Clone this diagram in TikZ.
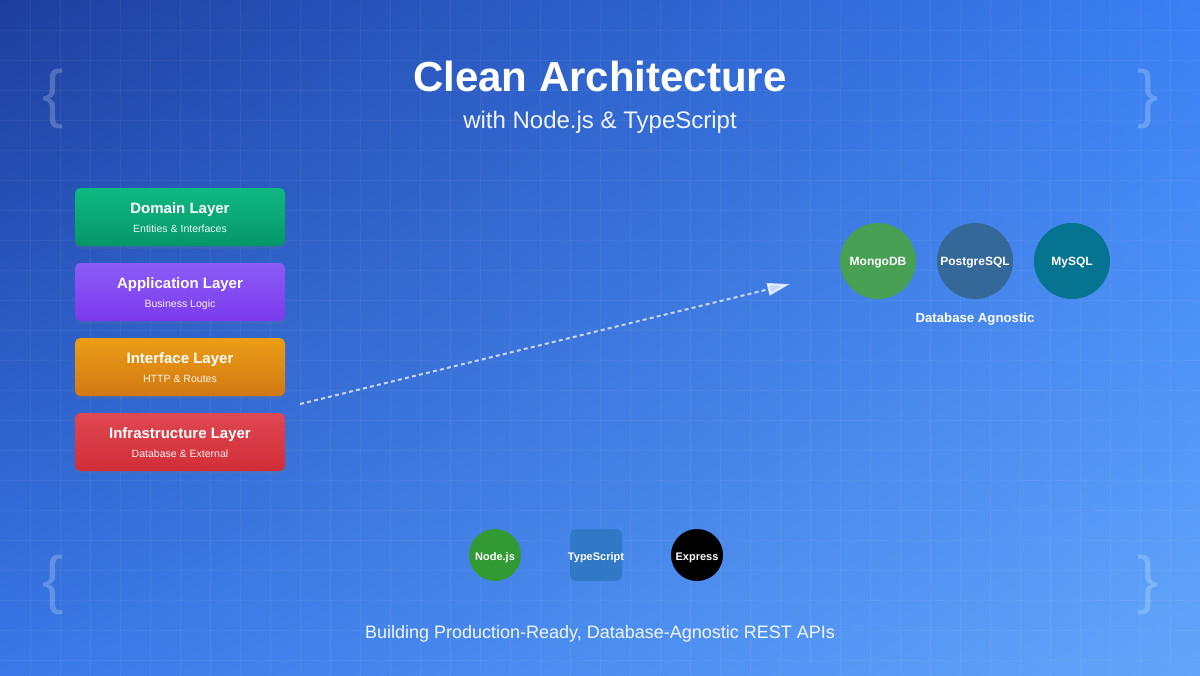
\documentclass[tikz,border=0pt]{standalone}
\usepackage{fontspec}
\setmainfont{Liberation Sans}
\usetikzlibrary{arrows.meta,shadows,shadings}
\definecolor{bgTL}{RGB}{30,62,158}
\definecolor{bgTR}{RGB}{58,128,244}
\definecolor{bgBL}{RGB}{56,120,232}
\definecolor{bgBR}{RGB}{98,166,250}
\definecolor{domT}{RGB}{16,185,129}
\definecolor{domB}{RGB}{5,150,105}
\definecolor{appT}{RGB}{139,92,246}
\definecolor{appB}{RGB}{124,58,237}
\definecolor{intT}{RGB}{235,158,20}
\definecolor{intB}{RGB}{210,120,20}
\definecolor{infT}{RGB}{222,72,82}
\definecolor{infB}{RGB}{210,45,55}
\definecolor{mongo}{RGB}{71,160,84}
\definecolor{pg}{RGB}{52,104,152}
\definecolor{mysql}{RGB}{6,116,144}
\definecolor{nodegreen}{RGB}{51,153,51}
\definecolor{tsblue}{RGB}{49,120,198}
\newcommand{\px}[1]{\edef\pxsz{\the\dimexpr #1pt*3/4\relax}\fontsize{\pxsz}{\pxsz}\selectfont}
\tikzset{
  layerbox/.style={rounded corners=4pt, minimum width=157.5pt, minimum height=43.5pt, inner sep=0pt, drop shadow={opacity=0.18, shadow xshift=0pt, shadow yshift=-2pt}},
  ltitle/.style={text=white, font=\bfseries\fontsize{11.25pt}{12pt}\selectfont, inner sep=0pt, text height=8.05pt, text depth=0pt},
  lsub/.style={text=white, text opacity=0.92, font=\fontsize{7.9pt}{9pt}\selectfont, inner sep=0pt, text height=5.65pt, text depth=0pt},
  dbcircle/.style={circle, minimum size=57pt, inner sep=0pt, text=white, font=\bfseries\px{12}, text height=6.45pt, text depth=0pt},
  techcircle/.style={circle, minimum size=39pt, inner sep=0pt},
  techsquare/.style={rounded corners=4pt, minimum size=39pt, inner sep=0pt},
  techlabel/.style={text=white, font=\bfseries\px{11}, inner sep=0pt, text height=5.9pt, text depth=0pt},
  brace/.style={text=white, text opacity=0.22, font=\px{64}, inner sep=0pt},
}
\begin{document}
\begin{tikzpicture}[x=0.75pt,y=-0.75pt]
\useasboundingbox (0,0) rectangle (1200,675);
\shade[upper left=bgTL, upper right=bgTR, lower left=bgBL, lower right=bgBR] (0,0) rectangle (1200,675);
\foreach \x in {30,60,...,1170} \draw[white, opacity=0.055, line width=0.75pt] (\x,0) -- (\x,675);
\foreach \y in {30,60,...,660} \draw[white, opacity=0.055, line width=0.75pt] (0,\y) -- (1200,\y);

% braces
\node[brace] (b1) at (53,99) {\{};
\node[brace] (b2) at (1148,99) {\}};
\node[brace] (b3) at (53,585) {\{};
\node[brace] (b4) at (1148,585) {\}};

% title
\node[text=white, font=\bfseries\fontsize{31.5pt}{33pt}\selectfont, inner sep=0pt, text height=22.55pt, text depth=0pt] (title) at (600,76) {Clean Architecture};
\node[text=white, text opacity=0.92, font=\px{24}, inner sep=0pt, text height=12.9pt, text depth=0pt] (subtitle) at (600,119.5) {with Node.js \& TypeScript};

% layers
\node[layerbox, top color=domT, bottom color=domB] (dom) at (180,217) {};
\node[ltitle] (domt) at ([yshift=6.75pt]dom.center) {Domain Layer};
\node[lsub] (doms) at ([yshift=-9pt]dom.center) {Entities \& Interfaces};

\node[layerbox, top color=appT, bottom color=appB] (app) at (180,292) {};
\node[ltitle] (appt) at ([yshift=6.75pt]app.center) {Application Layer};
\node[lsub] (apps) at ([yshift=-9pt]app.center) {Business Logic};

\node[layerbox, top color=intT, bottom color=intB] (int) at (180,367) {};
\node[ltitle] (intt) at ([yshift=6.75pt]int.center) {Interface Layer};
\node[lsub] (ints) at ([yshift=-9pt]int.center) {HTTP \& Routes};

\node[layerbox, top color=infT, bottom color=infB] (inf) at (180,442) {};
\node[ltitle] (inft) at ([yshift=6.75pt]inf.center) {Infrastructure Layer};
\node[lsub] (infs) at ([yshift=-9pt]inf.center) {Database \& External};

% arrow
\coordinate (as) at (300,404);
\coordinate (ae) at (790,284);
\draw[white, opacity=0.72, line width=1.5pt, dash pattern=on 3pt off 2.4pt,
  -{Triangle[length=17pt, width=9.5pt, fill=white]}] (as) -- (ae);

% databases
\node[dbcircle, fill=mongo] (mongo) at (878,261) {MongoDB};
\node[dbcircle, fill=pg] (pg) at (975,261) {PostgreSQL};
\node[dbcircle, fill=mysql] (mysql) at (1072,261) {MySQL};
\node[text=white, font=\bfseries\fontsize{9.9pt}{11pt}\selectfont, inner sep=0pt, text height=7.1pt, text depth=0pt] (agn) at (975,318) {Database Agnostic};

% tech
\node[techcircle, fill=nodegreen] (nodejs) at (495,555) {};
\node[techlabel] (nodel) at ([yshift=-1.5pt]nodejs.center) {Node.js};
\node[techsquare, fill=tsblue] (ts) at (596,555) {};
\node[techlabel] (tsl) at ([yshift=-1.5pt]ts.center) {TypeScript};
\node[techcircle, fill=black] (express) at (697,555) {};
\node[techlabel] (expl) at ([yshift=-1.5pt]express.center) {Express};

% footer
\node[text=white, text opacity=0.92, font=\px{18}, inner sep=0pt, text height=9.67pt, text depth=0pt] (footer) at (600,632) {Building Production-Ready, Database-Agnostic REST APIs};
\end{tikzpicture}
\end{document}
